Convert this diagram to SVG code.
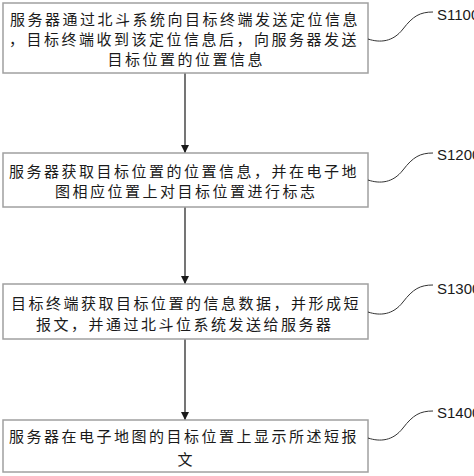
<svg xmlns="http://www.w3.org/2000/svg" width="474" height="476" viewBox="0 0 474 476">
<style>
.box{fill:#fff;stroke:#a0a0a0;stroke-width:1.5}
.t{font-family:"Noto Sans CJK SC","Noto Sans CJK JP",sans-serif;font-size:15px;letter-spacing:2.5px;fill:#1a1a1a;dominant-baseline:central}
.lbl{font-family:"Liberation Sans",Arial,sans-serif;font-size:15px;fill:#1a1a1a}
.lead{fill:none;stroke:#333;stroke-width:1}
.conn{stroke:#1a1a1a;stroke-width:1.2;fill:none}
</style>
<defs>
<marker id="ah" markerWidth="8" markerHeight="8" refX="8" refY="4" orient="auto" markerUnits="userSpaceOnUse">
<path d="M0,0 L8,4 L0,8 Z" fill="#1a1a1a"/>
</marker>
<path id="leadpath" d="M0 0 C12 4, 25 3, 35 -10 S 52 -27, 65 -27"/>
</defs>
<rect width="474" height="476" fill="#fff"/>
<g id="connectors">
<line class="conn" x1="185" y1="73" x2="185" y2="153" marker-end="url(#ah)"/>
<line class="conn" x1="185" y1="207" x2="185" y2="284" marker-end="url(#ah)"/>
<line class="conn" x1="185" y1="339" x2="185" y2="420" marker-end="url(#ah)"/>
</g>
<g id="S1100">
<rect class="box" x="3" y="3" width="365" height="70"/>
<text class="t" x="10" y="18">服务器通过北斗系统向目标终端发送定位信息</text>
<text class="t" x="9" y="38">，目标终端收到该定位信息后，向服务器发送</text>
<text class="t" x="107.5" y="58">目标位置的位置信息</text>
<use href="#leadpath" class="lead" transform="translate(368,39)"/>
<text class="lbl" x="437" y="20">S1100</text>
</g>
<g id="S1200">
<rect class="box" x="3" y="153" width="365" height="54"/>
<text class="t" x="9" y="170">服务器获取目标位置的位置信息，并在电子地</text>
<text class="t" x="55" y="190">图相应位置上对目标位置进行标志</text>
<use href="#leadpath" class="lead" transform="translate(368,180)"/>
<text class="lbl" x="437" y="160">S1200</text>
</g>
<g id="S1300">
<rect class="box" x="3" y="284" width="365" height="55"/>
<text class="t" x="11" y="302">目标终端获取目标位置的信息数据，并形成短</text>
<text class="t" x="36" y="323">报文，并通过北斗位系统发送给服务器</text>
<use href="#leadpath" class="lead" transform="translate(368,312)"/>
<text class="lbl" x="437" y="294">S1300</text>
</g>
<g id="S1400">
<rect class="box" x="3" y="420" width="365" height="52"/>
<text class="t" x="9" y="435">服务器在电子地图的目标位置上显示所述短报</text>
<text class="t" x="177.5" y="458">文</text>
<use href="#leadpath" class="lead" transform="translate(368,438)"/>
<text class="lbl" x="437" y="418">S1400</text>
</g>
</svg>
